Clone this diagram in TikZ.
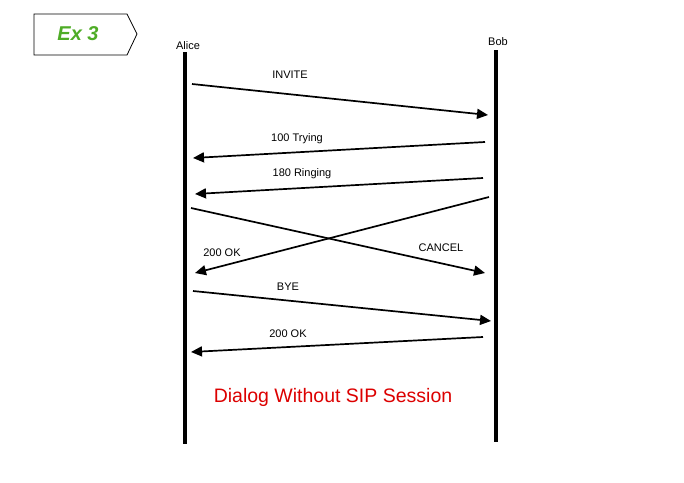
\documentclass[tikz,border=0pt]{standalone}
\usepackage{fontspec}
\setmainfont{Liberation Sans}
\usetikzlibrary{arrows.meta}
\definecolor{exgreen}{RGB}{78,172,38}
\definecolor{titlered}{RGB}{220,0,0}
\begin{document}
\begin{tikzpicture}[x=1pt,y=-1pt,
  msg/.style={line width=1.7pt,-{Triangle[length=11pt,width=10pt]}},
  life/.style={line width=4pt},
  lbl/.style={font=\fontsize{11pt}{13pt}\selectfont,inner sep=0pt},
  who/.style={font=\fontsize{11pt}{13pt}\selectfont,inner sep=0pt}]
\useasboundingbox (0,0) rectangle (684,482);
% Ex 3 box
\draw[line width=0.8pt] (34,14) -- (127,14) -- (137,34) -- (127,55) -- (34,55) -- cycle;
\node[font=\fontsize{20pt}{24pt}\selectfont\bfseries\itshape,text=exgreen,inner sep=0pt] (ex) at (78,34) {Ex 3};
% lifelines
\node[who] (alice) at (188,46) {Alice};
\node[who] (bob) at (498,42) {Bob};
\coordinate (a0) at (185,52); \coordinate (a1) at (185,444);
\coordinate (b0) at (496,50); \coordinate (b1) at (496,442);
\draw[life] (a0) -- (a1);
\draw[life] (b0) -- (b1);
% messages
\coordinate (m1s) at (192,84);  \coordinate (m1e) at (488,115);
\coordinate (m2s) at (485,142); \coordinate (m2e) at (193,158);
\coordinate (m3s) at (483,178); \coordinate (m3e) at (195,194);
\coordinate (m4s) at (191,208); \coordinate (m4e) at (485,273);
\coordinate (m5s) at (489,197); \coordinate (m5e) at (195,273);
\coordinate (m6s) at (193,291); \coordinate (m6e) at (491,321);
\coordinate (m7s) at (483,337); \coordinate (m7e) at (191,352);
\draw[msg] (m1s) -- (m1e);
\draw[msg] (m2s) -- (m2e);
\draw[msg] (m3s) -- (m3e);
\draw[msg] (m4s) -- (m4e);
\draw[msg] (m5s) -- (m5e);
\draw[msg] (m6s) -- (m6e);
\draw[msg] (m7s) -- (m7e);
% labels
\node[lbl] (l1) at (290,75) {INVITE};
\node[lbl] (l2) at (297,139) {100 Trying};
\node[lbl] (l3) at (302,174) {180 Ringing};
\node[lbl] (l4) at (441,248) {CANCEL};
\node[lbl] (l5) at (222,253) {200 OK};
\node[lbl] (l6) at (288,287) {BYE};
\node[lbl] (l7) at (288,334) {200 OK};
\node[font=\fontsize{19.5pt}{23pt}\selectfont,text=titlered,inner sep=0pt] (title) at (333,397) {Dialog Without SIP Session};
\end{tikzpicture}
\end{document}
